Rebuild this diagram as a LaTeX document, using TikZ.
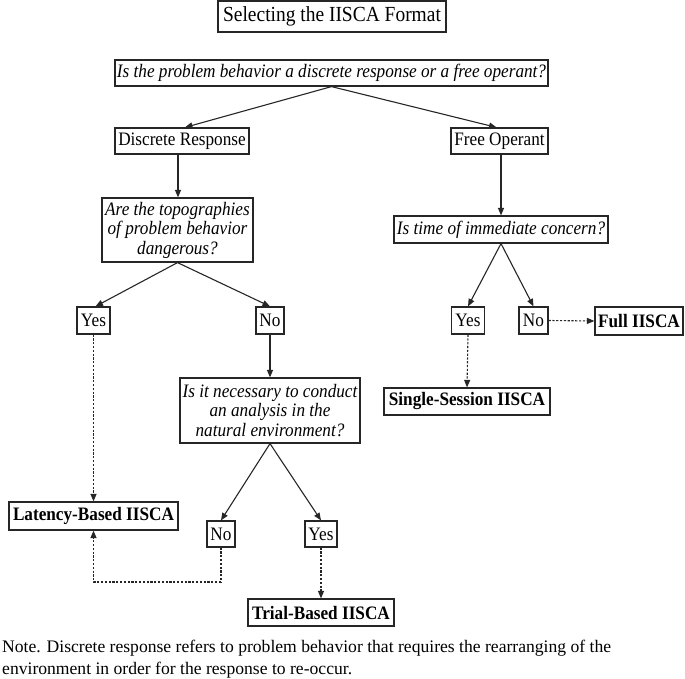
\documentclass[tikz,border=0pt]{standalone}
\usepackage{fontspec}
\setmainfont{Liberation Serif}
\newfontfamily\cfont{Liberation Serif}[FakeStretch=0.905]
\usetikzlibrary{arrows.meta}
\tikzset{
  box/.style={draw=black!85, line width=1.2pt, inner sep=0pt, align=center,
    font=\cfont\fontsize{19}{19.5}\selectfont},
  qbox/.style={box, font=\cfont\fontsize{19}{19.5}\selectfont\itshape},
  bbox/.style={box, font=\cfont\fontsize{19}{19.5}\selectfont\bfseries},
  arr/.style={draw=black!85, line width=1.1pt, -{Triangle[length=7.5pt,width=6pt]}},
  darr/.style={draw=black!85, line width=1.1pt, dash pattern=on 2.2pt off 1.6pt, -{Triangle[length=7.5pt,width=6pt]}},
  dline/.style={draw=black!85, line width=1.1pt, dash pattern=on 2.2pt off 1.6pt},
}
\begin{document}
\begin{tikzpicture}[x=1pt,y=-1pt]
\useasboundingbox (0,0) rectangle (685,679);
\node[box, font=\cfont\fontsize{21.5}{22}\selectfont, minimum width=228pt, minimum height=31pt] (title) at (332,16.5) {Selecting the IISCA Format};
\node[qbox, minimum width=433pt, minimum height=26pt] (q1) at (331.5,73) {Is the problem behavior a discrete response or a free operant?};
\node[box, minimum width=134pt, minimum height=26pt] (dr) at (182,141) {Discrete Response};
\node[box, minimum width=97pt, minimum height=26pt] (fo) at (499.5,141) {Free Operant};
\node[qbox, minimum width=151pt, minimum height=64pt] (q2) at (177.5,230) {Are the topographies\\of problem behavior\\dangerous?};
\node[qbox, minimum width=214pt, minimum height=27pt] (q3) at (501,229.5) {Is time of immediate concern?};
\node[box, minimum width=33pt, minimum height=27pt] (y1) at (93.5,320.5) {Yes};
\node[box, minimum width=28pt, minimum height=27pt] (n1) at (270,320.5) {No};
\node[box, minimum width=33pt, minimum height=27pt] (y3) at (468,320.5) {Yes};
\node[box, minimum width=29pt, minimum height=27pt] (n3) at (533.5,320.5) {No};
\node[bbox, minimum width=88pt, minimum height=28pt] (full) at (639,321) {Full IISCA};
\node[bbox, minimum width=166pt, minimum height=27pt] (single) at (467,401.5) {Single-Session IISCA};
\node[qbox, minimum width=180pt, minimum height=65pt] (q4) at (270,410.5) {Is it necessary to conduct\\an analysis in the\\natural environment?};
\node[bbox, minimum width=169pt, minimum height=28pt] (lat) at (93.5,516) {Latency-Based IISCA};
\node[box, minimum width=28pt, minimum height=26pt] (n2) at (221,534) {No};
\node[box, minimum width=32pt, minimum height=26pt] (y2) at (321,534) {Yes};
\node[bbox, minimum width=146pt, minimum height=27pt] (trial) at (321,612.5) {Trial-Based IISCA};
\node[anchor=north west, inner sep=0pt, align=left, font=\fontsize{17.6}{22}\selectfont] (note) at (2,640)
  {Note. Discrete response refers to problem behavior that requires the rearranging of the\\environment in order for the response to re-occur.};
\coordinate (c2) at (221,582);
% connectors
\draw[arr] (q1.south) -- ([xshift=3pt]dr.north);
\draw[arr] (q1.south) -- ([xshift=-3pt]fo.north);
\draw[arr] ([xshift=-4pt]dr.south) -- ([xshift=0.5pt]q2.north);
\draw[arr] ([xshift=1.5pt]fo.south) -- (q3.north);
\draw[arr] (q2.south) -- ([xshift=2pt]y1.north);
\draw[arr] (q2.south) -- (n1.north);
\draw[arr] (n1.south) -- (q4.north);
\draw[arr] (q3.south) -- (y3.north);
\draw[arr] (q3.south) -- (n3.north);
\draw[arr] (q4.south) -- (n2.north);
\draw[arr] (q4.south) -- (y2.north);
\draw[darr] (y1.south) -- (lat.north);
\draw[darr] (y3.south) -- (single.north);
\draw[darr] (n3.east) -- (full.west);
\draw[darr] (y2.south) -- (trial.north);
\draw[dline] (n2.south) -- (c2);
\draw[darr] (c2) -| (lat.south);
\end{tikzpicture}
\end{document}
